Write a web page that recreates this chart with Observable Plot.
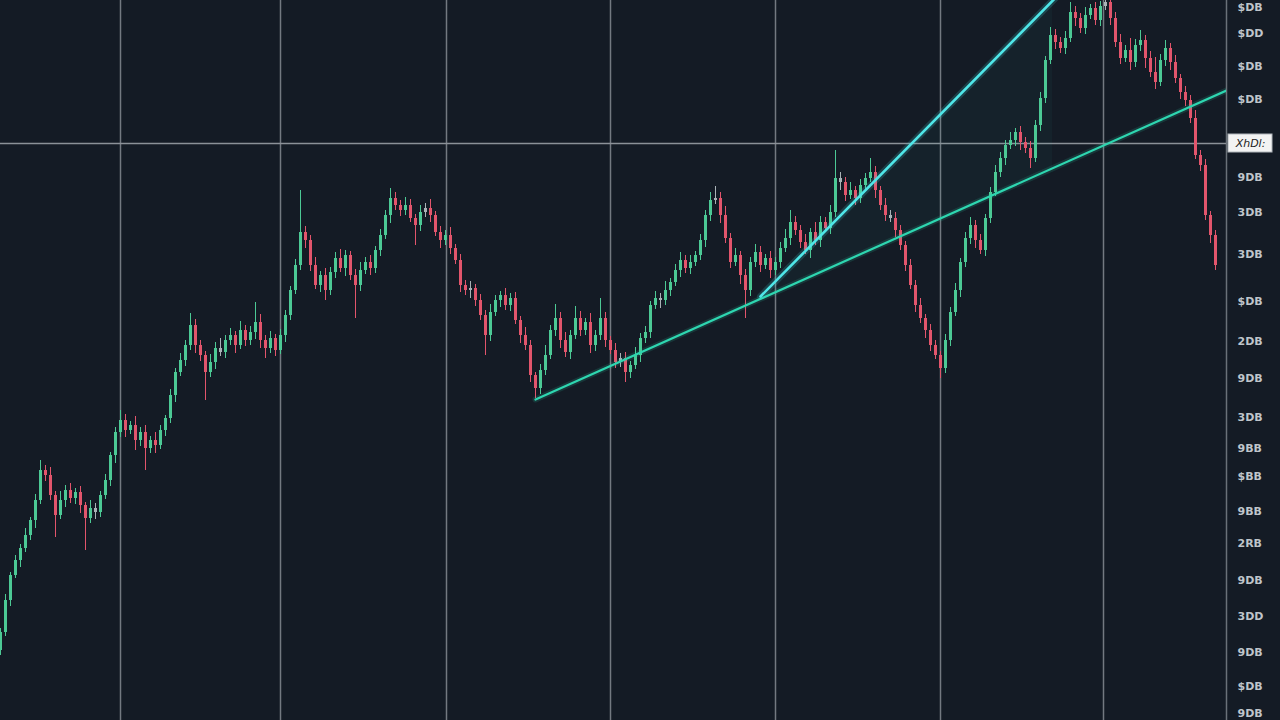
<!DOCTYPE html>
<html><head><meta charset="utf-8">
<script src="https://cdn.jsdelivr.net/npm/d3@7"></script>
<script src="https://cdn.jsdelivr.net/npm/@observablehq/plot@0.6"></script>
<style>html,body{margin:0;padding:0;background:#141b25;overflow:hidden}</style>
</head><body><div id="chart"></div>
<script>
// Candle closes (price units), one per bar
const firstOpen = 70;
const closes = [
  88,120,145,160,172,185,200,220,250,245,225,205,220,230,222,228,215,202,212,208,
  225,240,265,288,300,290,295,280,288,272,280,275,290,302,325,348,360,375,395,375,
  365,348,358,372,368,380,385,375,390,380,388,398,380,372,382,370,385,405,430,455,
  488,480,455,435,445,430,448,462,452,465,445,435,450,458,452,470,485,505,522,515,
  510,515,502,495,508,512,505,488,480,485,472,460,435,430,432,420,405,385,408,420,
  425,415,422,400,385,375,345,332,350,365,390,402,380,368,385,402,390,398,375,385,
  402,380,370,358,362,348,355,365,382,388,415,422,420,430,438,450,460,452,458,465,
  480,505,520,522,505,482,458,465,445,430,458,468,455,462,450,458,472,482,498,490,
  478,470,488,480,498,492,508,542,538,525,530,522,535,542,548,530,515,505,502,490,
  475,455,435,415,402,390,375,365,352,380,408,430,458,482,495,480,470,502,528,548,
  562,575,580,588,578,572,562,595,622,660,685,678,672,682,708,702,692,705,712,700,
  714,718,702,678,662,670,658,675,680,662,648,638,660,672,658,642,628,620,602,565,
  555,505,485,455
];
const wickUp = [
  4,6,3,5,4,7,3,6,10,5,8,4,9,5,7,4,6,3,8,5,
  4,6,3,5,10,6,4,9,5,7,4,8,5,3,6,4,7,5,12,6,
  5,4,8,6,10,5,7,4,9,5,6,20,8,5,7,4,6,5,4,6,
  42,6,5,8,4,7,5,6,9,5,4,6,8,5,7,4,6,5,10,6,
  5,8,6,4,7,5,9,4,6,5,8,4,6,5,7,4,6,5,8,5,
  4,7,5,6,4,8,5,3,6,10,5,14,6,8,5,12,7,4,9,5,
  20,6,4,7,5,6,4,8,5,6,4,7,5,9,4,6,8,5,7,4,
  6,5,8,12,6,9,5,7,4,6,5,8,6,4,7,5,6,9,12,6,
  5,8,4,10,6,5,7,28,6,5,8,4,6,5,14,6,4,7,5,6,
  5,4,6,5,7,4,6,5,4,6,5,7,4,6,8,5,6,4,5,7,
  6,5,8,4,6,5,7,5,6,4,8,6,5,7,10,6,5,8,4,6,
  5,7,4,6,8,5,12,6,10,5,7,15,6,8,5,7,4,6,5,8,
  5,6,4,5
];
const wickDown = [
  5,4,6,3,7,4,5,8,4,6,5,22,4,7,5,6,8,32,5,7,
  5,4,6,8,5,7,4,10,6,22,5,8,4,6,5,7,4,6,5,8,
  6,28,5,7,4,6,5,8,4,6,5,7,8,10,5,6,4,7,5,4,
  5,8,6,4,7,10,5,6,4,8,5,33,6,4,7,5,6,4,8,5,
  6,5,4,20,6,5,7,4,8,5,6,4,7,5,8,6,5,20,6,4,
  7,5,6,4,8,5,7,10,6,5,4,6,8,5,7,4,6,5,8,6,
  5,7,4,6,5,10,6,4,7,5,6,4,8,5,6,4,7,5,6,4,
  5,7,6,4,8,5,6,4,9,28,6,5,7,4,8,5,6,4,7,5,
  6,4,8,5,7,4,6,5,8,6,4,7,5,6,4,8,5,6,4,7,
  5,6,4,7,5,8,6,4,10,5,6,4,7,5,6,8,4,6,5,4,
  5,7,4,6,8,5,10,4,6,5,4,7,5,6,4,8,5,6,4,5,
  6,4,7,5,6,4,8,5,6,10,5,7,4,6,8,5,7,6,5,4,
  6,5,8,5
];
// Trend lines (bar index, price)
const supportLine = [{i: 107, p: 321}, {i: 245.2, p: 630}];
const steepLine = [{i: 152, p: 424}, {i: 216, p: 748}];
// Vertical grid positions (bar index) and crosshair price
const gridBars = [24, 56, 89.2, 122, 155, 188, 220.6];
const crosshairPrice = 577;
const crosshairLabel = "XhDl:";
// Price axis ticks and their labels
const tickValues = [713,687,654,621,543,508,466,419,379,342,303,272,244,209,177,140,104,68,34,7];
const tickLabels = ["$DB","$DD","$DB","$DB","9DB","3DB","3DB","$DB","2DB","9DB","3DB","9BB","$BB","9BB","2RB","9DB","3DD","9DB","$DB","9DB"];

const UP = "#4cc995", DOWN = "#e2556c", FLAT = "#a9b2b6";
const candles = closes.map((c, i) => {
  const o = i === 0 ? firstOpen : closes[i - 1];
  const d = c - o;
  return {
    i, open: o, close: c,
    high: Math.max(o, c) + wickUp[i],
    low: Math.min(o, c) - wickDown[i],
    color: Math.abs(d) < 5 ? FLAT : d > 0 ? UP : DOWN
  };
});
const xEnd = 245.2;
const lineAt = (ln, i) => ln[0].p + (ln[1].p - ln[0].p) * (i - ln[0].i) / (ln[1].i - ln[0].i);
const wedge = [152, 210.4].map(i => ({i, a: lineAt(supportLine, i), b: lineAt(steepLine, i)}));
const labelMap = new Map(tickValues.map((v, k) => [v, tickLabels[k]]));

const chart = Plot.plot({
  width: 1280, height: 720,
  marginTop: 0, marginBottom: 0, marginLeft: 0, marginRight: 54,
  x: {domain: [0, xEnd], axis: null},
  y: {domain: [0, 720], axis: null},
  color: {type: "identity"},
  style: {background: "#141b25", color: "#c3c8ce", fontFamily: "DejaVu Sans", fontSize: "11px"},
  marks: [
    Plot.ruleX(gridBars, {stroke: "#7d848c", strokeWidth: 1.5, strokeOpacity: 0.9}),
    Plot.ruleX([xEnd], {stroke: "#6a7179", strokeWidth: 1.5}),
    Plot.ruleY([crosshairPrice], {stroke: "#8b9198", strokeWidth: 1.5}),
    Plot.areaY(wedge, {x: "i", y1: "a", y2: "b", fill: "#2ed6b0", fillOpacity: 0.045, clip: true}),
    Plot.ruleX(candles, {x: "i", y1: "low", y2: "high", stroke: "color", strokeWidth: 1, clip: true}),
    Plot.ruleX(candles, {x: "i", y1: "open", y2: "close", stroke: "color", strokeWidth: 3, clip: true}),
    Plot.line(supportLine, {x: "i", y: "p", stroke: "#2ed6b0", strokeWidth: 6, strokeOpacity: 0.15, clip: true}),
    Plot.line(supportLine, {x: "i", y: "p", stroke: "#2ed6b0", strokeWidth: 2.2, clip: true}),
    Plot.line(steepLine, {x: "i", y: "p", stroke: "#45e2e4", strokeWidth: 7, strokeOpacity: 0.18, clip: true}),
    Plot.line(steepLine, {x: "i", y: "p", stroke: "#4fe6e8", strokeWidth: 2.6, clip: true}),
    Plot.axisY({anchor: "right", ticks: tickValues, tickFormat: v => labelMap.get(v), tickSize: 0, tickPadding: 11, fontWeight: 600, fill: "#bfc5cb"}),
    Plot.rect([{x1: 245.6, x2: 254.4, y1: 568, y2: 586}], {x1: "x1", x2: "x2", y1: "y1", y2: "y2", fill: "#f3f3f3", stroke: "#b0b6bb"}),
    Plot.text([{x: 250, y: crosshairPrice}], {x: "x", y: "y", text: () => crosshairLabel, fill: "#222", fontSize: 11, fontStyle: "italic"})
  ]
});
document.getElementById("chart").appendChild(chart);
</script>
</body></html>
